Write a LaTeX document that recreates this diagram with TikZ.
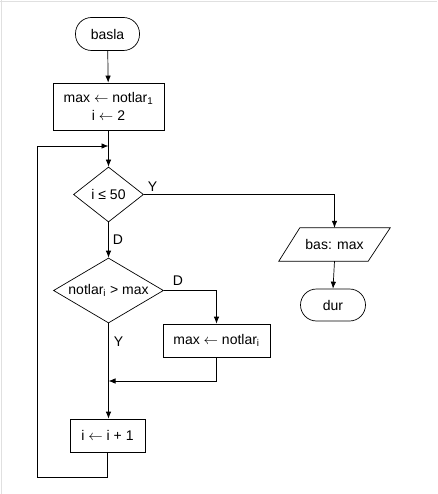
\documentclass[tikz,border=0pt]{standalone}
\usepackage{fontspec}
\setmainfont{Liberation Sans}
\usetikzlibrary{shapes.geometric,arrows.meta}
\newcommand{\la}{\ensuremath{\leftarrow}}
\tikzset{
  base/.style={draw, line width=0.7pt, inner sep=2pt, font=\fontsize{14}{17}\selectfont, align=center},
  term/.style={base, rounded corners=16pt},
  proc/.style={base},
  dec/.style={base, diamond, inner sep=0pt},
  io/.style={inner sep=0pt, font=\fontsize{14}{17}\selectfont},
  conn/.style={line width=0.7pt},
  arr/.style={conn, -{Latex[length=7pt,width=5.5pt]}},
  lbl/.style={font=\fontsize{14}{17}\selectfont, inner sep=0pt}
}
\begin{document}
\begin{tikzpicture}[x=1pt,y=-1pt]
\useasboundingbox (0,0) rectangle (437,494);
\draw[black!12, line width=1pt] (0,1.5) -- (437,1.5);
\draw[black!12, line width=1pt] (1.5,0) -- (1.5,494);

\node[term, minimum width=64pt, minimum height=33pt] (start) at (107.5,34) {basla};
\node[proc, minimum width=111pt, minimum height=47pt] (b1) at (108.5,106.5) {max \la{} notlar\textsubscript{1}\\[1pt]i \la{} 2};
\node[dec, shape aspect=1.27, minimum width=70pt, minimum height=55pt] (d1) at (108.5,194.5) {i ≤ 50};
\node[io, minimum width=111pt, minimum height=33pt] (out) at (334.5,244.5) {bas: max};
\draw[conn] ([xshift=21pt]out.north west) -- (out.north east) -- ([xshift=-22pt]out.south east) -- (out.south west) -- cycle;
\node[term, minimum width=65pt, minimum height=32pt] (dur) at (333,305) {dur};
\node[dec, shape aspect=1.75, minimum width=110pt, minimum height=65pt] (d2) at (108.5,290.5) {notlar\textsubscript{i} > max};
\node[proc, minimum width=107pt, minimum height=33pt] (b3) at (216.5,340.5) {max \la{} notlar\textsubscript{i}};
\node[proc, minimum width=75pt, minimum height=33pt] (b4) at (107.5,435.5) {i \la{} i + 1};

\coordinate (loopin) at (108.5,146);
\coordinate (loopbl) at (37,477);
\coordinate (loopt) at (37,146);
\coordinate (merge) at (108.5,381);

\draw[arr] (start) -- (b1);
\draw[arr] (b1) -- (d1);
\draw[conn] (b4.south) |- (loopbl) -- (loopt);
\draw[arr] (loopt) -- (loopin);
\draw[arr] (d1.east) -| (out.north);
\draw[arr] (out.south) -- (dur.north);
\draw[arr] (d1.south) -- (d2.north);
\draw[arr] (d2.east) -| (b3.north);
\draw[arr] (d2.south) -- (d2.south |- b4.north);
\draw[arr] (b3.south) |- (merge);

\node[lbl] (ly1) at (152.5,187) {Y};
\node[lbl] (ld1) at (118,240) {D};
\node[lbl] (ld2) at (178,281) {D};
\node[lbl] (ly2) at (118.5,342) {Y};
\end{tikzpicture}
\end{document}
